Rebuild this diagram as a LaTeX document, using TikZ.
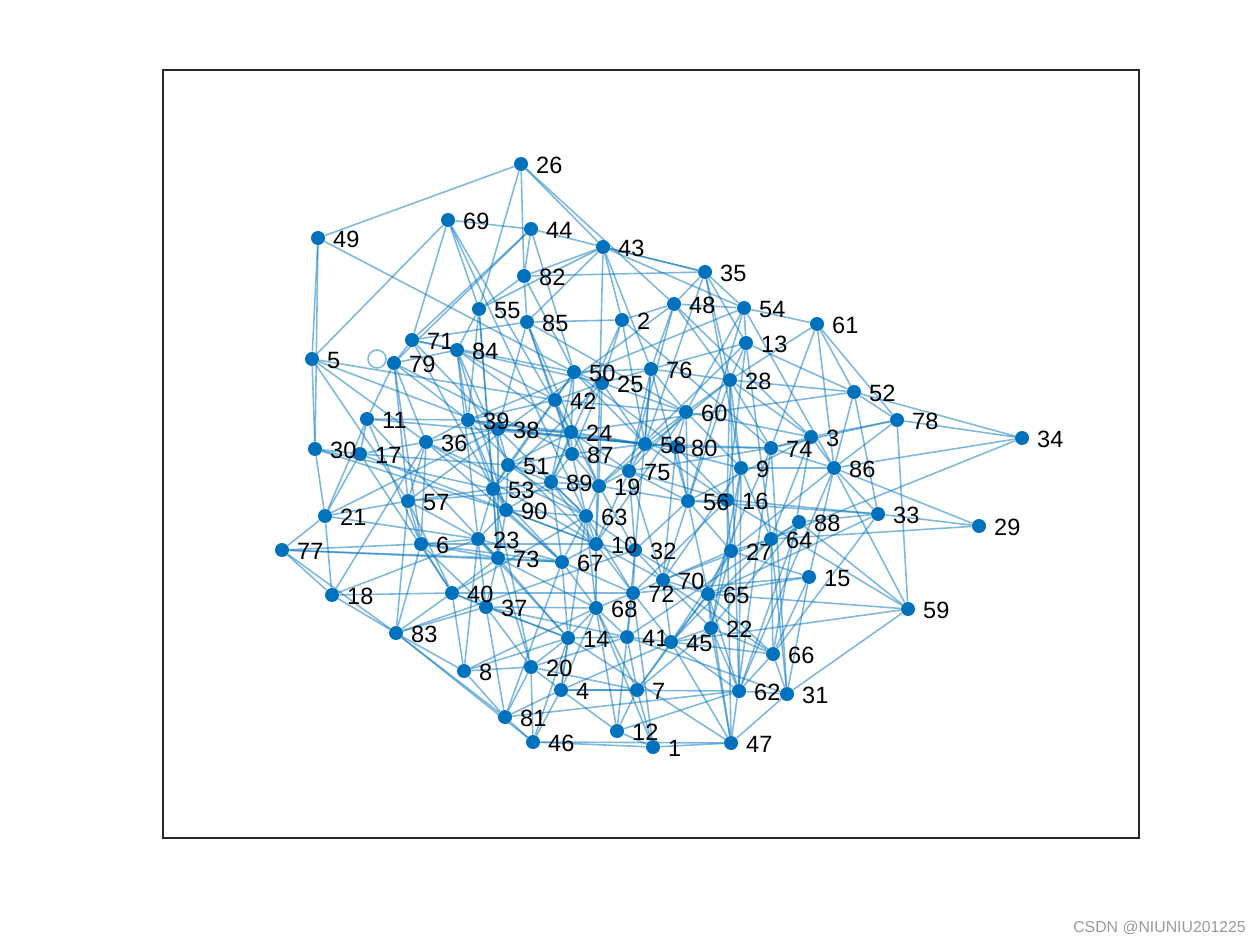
\documentclass[tikz,border=0pt]{standalone}
\usepackage{fontspec}
\setmainfont{Liberation Sans}
\usetikzlibrary{backgrounds}
\definecolor{matblue}{RGB}{0,114,189}
\definecolor{axisgray}{RGB}{38,38,38}
\tikzset{
    x=0.02cm, y=-0.02cm, % one unit is one pixel of the figure
    lbl/.style={font=\fontsize{13.4}{15}\selectfont, inner sep=0pt, text=black,
        xshift=0.15cm, yshift=-0.03cm},
    vert/.style={circle, fill=matblue, inner sep=0pt, minimum size=0.28cm,
        label={[lbl]right:#1}}, % dot plus its number
    link/.style={draw=matblue, draw opacity=0.5, line width=0.9pt},
}
\begin{document}
\begin{tikzpicture}
  \useasboundingbox (0,0) rectangle (1260,945);
  \draw[axisgray, line width=0.6pt] (163,70) rectangle (1139,838);

  % vertices (a few out of order so that labels stay on top)
  \node[vert=1]  (v1)  at (653,747) {};
  \node[vert=2]  (v2)  at (622,320) {};
  \node[vert=3]  (v3)  at (811,437) {};
  \node[vert=4]  (v4)  at (561,690) {};
  \node[vert=5]  (v5)  at (312,359) {};
  \node[vert=6]  (v6)  at (421,544) {};
  \node[vert=7]  (v7)  at (637,690) {};
  \node[vert=8]  (v8)  at (464,671) {};
  \node[vert=9]  (v9)  at (741,468) {};
  \node[vert=32] (v32) at (635,550) {};
  \node[vert=10] (v10) at (596,544) {};
  \node[vert=11] (v11) at (367,419) {};
  \node[vert=12] (v12) at (617,731) {};
  \node[vert=13] (v13) at (746,343) {};
  \node[vert=14] (v14) at (568,638) {};
  \node[vert=15] (v15) at (809,577) {};
  \node[vert=16] (v16) at (727,500) {};
  \node[vert=17] (v17) at (360,454) {};
  \node[vert=18] (v18) at (332,595) {};
  \node[vert=19] (v19) at (599,486) {};
  \node[vert=20] (v20) at (531,667) {};
  \node[vert=21] (v21) at (325,516) {};
  \node[vert=22] (v22) at (711,628) {};
  \node[vert=23] (v23) at (478,539) {};
  \node[vert=24] (v24) at (571,432) {};
  \node[vert=25] (v25) at (602,383) {};
  \node[vert=26] (v26) at (521,164) {};
  \node[vert=27] (v27) at (731,551) {};
  \node[vert=28] (v28) at (730,380) {};
  \node[vert=29] (v29) at (979,526) {};
  \node[vert=30] (v30) at (315,449) {};
  \node[vert=31] (v31) at (787,694) {};
  \node[vert=33] (v33) at (878,514) {};
  \node[vert=34] (v34) at (1022,438) {};
  \node[vert=35] (v35) at (705,272) {};
  \node[vert=36] (v36) at (426,442) {};
  \node[vert=37] (v37) at (486,607) {};
  \node[vert=38] (v38) at (498,429) {};
  \node[vert=39] (v39) at (468,420) {};
  \node[vert=40] (v40) at (452,593) {};
  \node[vert=41] (v41) at (627,637) {};
  \node[vert=42] (v42) at (555,400) {};
  \node[vert=43] (v43) at (603,247) {};
  \node[vert=44] (v44) at (531,229) {};
  \node[vert=45] (v45) at (671,642) {};
  \node[vert=46] (v46) at (533,742) {};
  \node[vert=47] (v47) at (731,743) {};
  \node[vert=48] (v48) at (674,304) {};
  \node[vert=49] (v49) at (318,238) {};
  \node[vert=50] (v50) at (574,372) {};
  \node[vert=51] (v51) at (508,465) {};
  \node[vert=52] (v52) at (854,392) {};
  \node[vert=53] (v53) at (493,489) {};
  \node[vert=54] (v54) at (744,308) {};
  \node[vert=55] (v55) at (479,309) {};
  \node[vert=56] (v56) at (688,501) {};
  \node[vert=57] (v57) at (408,501) {};
  \node[vert=80] (v80) at (676,447) {}; % sits under the label of 58
  \node[vert=58] (v58) at (645,444) {};
  \node[vert=59] (v59) at (908,609) {};
  \node[vert=60] (v60) at (686,412) {};
  \node[vert=61] (v61) at (817,324) {};
  \node[vert=62] (v62) at (739,691) {};
  \node[vert=63] (v63) at (586,516) {};
  \node[vert=64] (v64) at (771,539) {};
  \node[vert=65] (v65) at (708,594) {};
  \node[vert=66] (v66) at (773,654) {};
  \node[vert=67] (v67) at (562,562) {};
  \node[vert=68] (v68) at (596,608) {};
  \node[vert=69] (v69) at (448,220) {};
  \node[vert=70] (v70) at (663,580) {};
  \node[vert=71] (v71) at (412,340) {};
  \node[vert=72] (v72) at (633,593) {};
  \node[vert=73] (v73) at (498,558) {};
  \node[vert=74] (v74) at (771,448) {};
  \node[vert=75] (v75) at (629,471) {};
  \node[vert=76] (v76) at (651,369) {};
  \node[vert=77] (v77) at (282,550) {};
  \node[vert=78] (v78) at (897,420) {};
  \node[vert=79] (v79) at (394,363) {};
  \node[vert=81] (v81) at (505,717) {};
  \node[vert=82] (v82) at (524,276) {};
  \node[vert=83] (v83) at (396,633) {};
  \node[vert=84] (v84) at (457,350) {};
  \node[vert=85] (v85) at (527,322) {};
  \node[vert=86] (v86) at (834,468) {};
  \node[vert=87] (v87) at (572,454) {};
  \node[vert=88] (v88) at (799,522) {};
  \node[vert=89] (v89) at (551,482) {};
  \node[vert=90] (v90) at (506,510) {};

  \node[font=\fontsize{9}{10}\selectfont, text=black!40, anchor=east] (mark) at (1252,928) {CSDN @NIUNIU201225};

  % edges, kept under the dots
  \begin{pgfonlayer}{background}
  \path[link]
    (v49) edge (v26) edge (v5) edge (v30) edge (v50)
    (v69) edge (v5) edge (v71) edge (v55) edge (v44) edge (v24) edge (v63)
    (v26) edge (v43) edge (v55) edge (v82) edge (v48)
    (v44) edge (v71) edge (v79) edge (v82) edge (v50) edge (v35)
    (v43) edge (v35) edge (v54) edge (v2) edge (v82) edge (v55) edge (v10) edge (v76) edge (v85)
    (v82) edge (v35) edge (v55) edge (v85) edge (v50)
    (v85) edge (v2) edge (v42) edge (v19) edge (v38) edge (v87) edge (v60)
    (v2)  edge (v48) edge (v25) edge (v58) edge (v89) edge (v74)
    (v55) edge (v84) edge (v39) edge (v73) edge (v53)
    (v35) edge (v54) edge (v48) edge (v13) edge (v28) edge (v58) edge (v9)
    (v48) edge (v54) edge (v76) edge (v28) edge (v75) edge (v3) edge (v57)
    (v54) edge (v61) edge (v13) edge (v86) edge (v60) edge (v56) edge (v39)
    (v61) edge (v78) edge (v52) edge (v86) edge (v28) edge (v74)
    (v13) edge (v28) edge (v52) edge (v16) edge (v19) edge (v64)
    (v52) edge (v34) edge (v78) edge (v28) edge (v86) edge (v33) edge (v24)
    (v78) edge (v34) edge (v59) edge (v3) edge (v74) edge (v86)
    (v34) edge (v86) edge (v64)
    (v29) edge (v86) edge (v33) edge (v64)
    (v33) edge (v86) edge (v88) edge (v16) edge (v65) edge (v66) edge (v56)
    (v59) edge (v86) edge (v88) edge (v65) edge (v45) edge (v31) edge (v16)
    (v86) edge (v3) edge (v9) edge (v74) edge (v27) edge (v62) edge (v15)
    (v3)  edge (v28) edge (v60) edge (v56) edge (v74) edge (v64) edge (v66)
    (v74) edge (v28) edge (v58) edge (v65) edge (v31) edge (v47) edge (v75)
    (v28) edge (v60) edge (v76) edge (v9) edge (v16) edge (v62) edge (v56) edge (v19)
    (v9)  edge (v60) edge (v27) edge (v22) edge (v70) edge (v64) edge (v62)
    (v16) edge (v56) edge (v27) edge (v47) edge (v72)
    (v88) edge (v64) edge (v62) edge (v41) edge (v22)
    (v64) edge (v27) edge (v66) edge (v31) edge (v70) edge (v45)
    (v15) edge (v66) edge (v65) edge (v31) edge (v72) edge (v27)
    (v66) edge (v31) edge (v62) edge (v22) edge (v65) edge (v45) edge (v70)
    (v31) edge (v47) edge (v62) edge (v41)
    (v62) edge (v22) edge (v65) edge (v45) edge (v4) edge (v12)
    (v47) edge (v1) edge (v46) edge (v45) edge (v22) edge (v65) edge (v14)
    (v1)  edge (v12) edge (v46) edge (v7) edge (v68) edge (v72)
    (v12) edge (v7) edge (v4) edge (v68) edge (v41)
    (v46) edge (v81) edge (v4) edge (v20) edge (v14) edge (v83)
    (v81) edge (v83) edge (v4) edge (v20) edge (v8) edge (v37) edge (v67) edge (v62)
    (v4)  edge (v20) edge (v7) edge (v63) edge (v68) edge (v14) edge (v45)
    (v7)  edge (v41) edge (v45) edge (v68) edge (v65) edge (v20) edge (v22)
    (v20) edge (v14) edge (v8) edge (v37) edge (v73) edge (v41) edge (v53)
    (v8)  edge (v83) edge (v40) edge (v23) edge (v68) edge (v14)
    (v83) edge (v18) edge (v40) edge (v6) edge (v37) edge (v32) edge (v57)
    (v18) edge (v77) edge (v40) edge (v21) edge (v36) edge (v23)
    (v77) edge (v21) edge (v83) edge (v6) edge (v73) edge (v67)
    (v21) edge (v30) edge (v17) edge (v57) edge (v38) edge (v23) edge (v11)
    (v30) edge (v17) edge (v5) edge (v53) edge (v90)
    (v17) edge (v11) edge (v36) edge (v51) edge (v10) edge (v40)
    (v11) edge (v79) edge (v39) edge (v6) edge (v73) edge (v58)
    (v5)  edge (v42) edge (v36) edge (v57) edge (v38)
    (v79) edge (v71) edge (v36) edge (v57) edge (v39) edge (v84) edge (v6) edge (v87)
    (v71) edge (v84) edge (v85) edge (v50) edge (v38) edge (v53)
    (v84) edge (v25) edge (v39) edge (v42) edge (v51) edge (v90) edge (v23) edge (v24)
    (v36) edge (v39) edge (v57) edge (v6) edge (v63) edge (v10) edge (v38) edge (v67)
    (v57) edge (v6) edge (v23) edge (v40) edge (v53) edge (v19)
    (v6)  edge (v40) edge (v23) edge (v73) edge (v37) edge (v67) edge (v10)
    (v40) edge (v37) edge (v73) edge (v14) edge (v63) edge (v72)
    (v37) edge (v73) edge (v68) edge (v14) edge (v41)
    (v39) edge (v38) edge (v42) edge (v53) edge (v90) edge (v24) edge (v58) edge (v10)
    (v38) edge (v24) edge (v51) edge (v58) edge (v80) edge (v73) edge (v63)
    (v42) edge (v50) edge (v24) edge (v25) edge (v87) edge (v60) edge (v53)
    (v50) edge (v25) edge (v76) edge (v24) edge (v58) edge (v80) edge (v89) edge (v51)
    (v25) edge (v76) edge (v60) edge (v58) edge (v87) edge (v19) edge (v53)
    (v76) edge (v60) edge (v58) edge (v13) edge (v75) edge (v56) edge (v32)
    (v60) edge (v58) edge (v80) edge (v75) edge (v56) edge (v10)
    (v58) edge (v80) edge (v75) edge (v87) edge (v24) edge (v16) edge (v9)
    (v80) edge (v56) edge (v16) edge (v74) edge (v70)
    (v24) edge (v87) edge (v51) edge (v89) edge (v75) edge (v19)
    (v87) edge (v89) edge (v75) edge (v19) edge (v63) edge (v51)
    (v51) edge (v53) edge (v89) edge (v90) edge (v63) edge (v19)
    (v89) edge (v19) edge (v53) edge (v63) edge (v90) edge (v10) edge (v67)
    (v19) edge (v75) edge (v63) edge (v10) edge (v32) edge (v56)
    (v75) edge (v56) edge (v10) edge (v32) edge (v16) edge (v70)
    (v53) edge (v90) edge (v23) edge (v73) edge (v67)
    (v90) edge (v23) edge (v63) edge (v10) edge (v67) edge (v73)
    (v63) edge (v10) edge (v67) edge (v32) edge (v72) edge (v68)
    (v56) edge (v27) edge (v32) edge (v70) edge (v65)
    (v23) edge (v73) edge (v67) edge (v37) edge (v14)
    (v73) edge (v67) edge (v68) edge (v14)
    (v67) edge (v10) edge (v68) edge (v14) edge (v72)
    (v10) edge (v32) edge (v72) edge (v70) edge (v68)
    (v32) edge (v70) edge (v72) edge (v65) edge (v41)
    (v27) edge (v70) edge (v65) edge (v22) edge (v45)
    (v70) edge (v72) edge (v65) edge (v45) edge (v22)
    (v72) edge (v68) edge (v41) edge (v45)
    (v65) edge (v22) edge (v45)
    (v68) edge (v41) edge (v14)
    (v14) edge (v41)
    (v41) edge (v45)
    (v45) edge (v22);
  % self loop of 79
  \draw[link] ([shift={(-17,-4)}]v79.center) circle[radius=0.18cm];
  \end{pgfonlayer}
\end{tikzpicture}
\end{document}
